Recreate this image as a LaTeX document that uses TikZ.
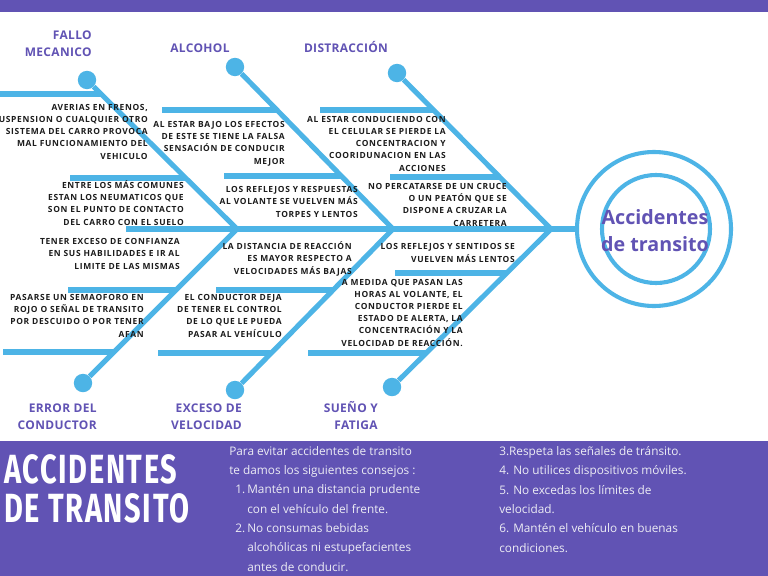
\documentclass[tikz,border=0pt]{standalone}
\usepackage{fontspec}
\setmainfont{Open Sans}
\newfontfamily\notefont[LetterSpace=8]{Open Sans}
\newfontfamily\catfont[LetterSpace=3]{Open Sans}
\newfontfamily\titlefont[FakeStretch=0.71,LetterSpace=4]{Fira Sans}
\definecolor{bar}{HTML}{6153B4}
\definecolor{fish}{HTML}{4DB4E6}
\definecolor{ink}{HTML}{1C1C1C}
\definecolor{paper}{HTML}{ECECF4}

\begin{document}
\begin{tikzpicture}[x=0.25mm, y=-0.25mm,
  bone/.style={fish, line width=3.6pt},
  dot/.style={circle, fill=fish, inner sep=0, minimum size=4.6mm},
  cat/.style={inner sep=0, anchor=base east, align=right, text=bar,
    font=\catfont\bfseries\fontsize{8.5}{11.4}\selectfont},
  note/.style={inner sep=0, anchor=base east, align=right, text=ink,
    font=\notefont\bfseries\fontsize{6}{8.55}\selectfont},
  tip/.style={inner sep=0, anchor=base west, align=left, text=paper,
    font=\fontsize{8.4}{13.7}\selectfont}]
  \useasboundingbox (0,0) rectangle (768,576);
  \fill[white] (0,0) rectangle (768,576);
  \fill[bar] (0,0) rectangle (768,12);
  \fill[bar] (0,441) rectangle (768,576);

  % head of the fish
  \node[circle, draw=fish, line width=2.9pt, minimum size=38.5mm] (hub) at (654,229) {};
  \node[circle, draw=fish, line width=2.9pt, minimum size=27mm] (core) at (656,229) {};
  \node[text=bar, align=center, font=\bfseries\fontsize{14}{19.2}\selectfont] (topic) at (655,231) {Accidentes\\de transito};

  % spine and the three chevrons
  \coordinate (tail) at (126,229);
  \coordinate (tipA) at (237,229);
  \coordinate (tipB) at (393,229);
  \coordinate (tipC) at (551,229);
  \draw[bone] (tail) -- (hub.west);

  \node[dot] (fallo) at (87,80) {};
  \node[dot] (alcohol) at (235,67) {};
  \node[dot] (distraccion) at (397,73) {};
  \node[dot] (error) at (83,383) {};
  \node[dot] (exceso) at (235,390) {};
  \node[dot] (sueno) at (392,387) {};
  \draw[bone] (fallo) -- (tipA) -- (error);
  \draw[bone] (alcohol) -- (tipB) -- (exceso);
  \draw[bone] (distraccion) -- (tipC) -- (sueno);

  % ribs
  \foreach \xa/\xb/\y in {0/101/94, 70/186/178, 68/176/290, 3/114/352,
      162/277/110, 224/341/176, 216/333/290, 158/271/353,
      320/434/110, 390/500/177, 395/507/273, 308/426/353}
    \draw[bone] (\xa,\y) -- (\xb,\y);

  % causes (base = last line)
  \node[cat] (lfallo) at (92,56) {FALLO\\MECANICO};
  \node[cat, anchor=base] (lalcohol) at (200,52) {ALCOHOL};
  \node[cat, anchor=base] (ldistraccion) at (346,52) {DISTRACCIÓN};
  \node[cat] (lerror) at (97,429) {ERROR DEL\\CONDUCTOR};
  \node[cat] (lexceso) at (242,429) {EXCESO DE\\VELOCIDAD};
  \node[cat] (lsueno) at (378,429) {SUEÑO Y\\FATIGA};

  % notes
  \node[note] (nfrenos) at (148,159) {AVERIAS EN FRENOS,\\SUSPENSION O CUALQUIER OTRO\\SISTEMA DEL CARRO PROVOCA\\MAL FUNCIONAMIENTO DEL\\VEHICULO};
  \node[note] (nllantas) at (184,225) {ENTRE LOS MÁS COMUNES\\ESTAN LOS NEUMATICOS QUE\\SON EL PUNTO DE CONTACTO\\DEL CARRO CON EL SUELO};
  \node[note] (nconfianza) at (180,269) {TENER EXCESO DE CONFIANZA\\EN SUS HABILIDADES E IR AL\\LIMITE DE LAS MISMAS};
  \node[note] (nsemaforo) at (144,337) {PASARSE UN SEMAOFORO EN\\ROJO O SEÑAL DE TRANSITO\\POR DESCUIDO O POR TENER\\AFAN};
  \node[note] (nefectos) at (285,164) {AL ESTAR BAJO LOS EFECTOS\\DE ESTE SE TIENE LA FALSA\\SENSACIÓN DE CONDUCIR\\MEJOR};
  \node[note] (nreflejos) at (358,217) {LOS REFLEJOS Y RESPUESTAS\\AL VOLANTE SE VUELVEN MÁS\\TORPES Y LENTOS};
  \node[note] (ndistancia) at (352,274) {LA DISTANCIA DE REACCIÓN\\ES MAYOR RESPECTO A\\VELOCIDADES MÁS BAJAS};
  \node[note] (ncontrol) at (282,337) {EL CONDUCTOR DEJA\\DE TENER EL CONTROL\\DE LO QUE LE PUEDA\\PASAR AL VEHÍCULO};
  \node[note] (ncelular) at (446,171) {AL ESTAR CONDUCIENDO CON\\EL CELULAR SE PIERDE LA\\CONCENTRACION Y\\COORIDUNACION EN LAS\\ACCIONES};
  \node[note] (ncruce) at (507,226) {NO PERCATARSE DE UN CRUCE\\O UN PEATÓN QUE SE\\DISPONE A CRUZAR LA\\CARRETERA};
  \node[note] (nsentidos) at (515,262) {LOS REFLEJOS Y SENTIDOS SE\\VUELVEN MÁS LENTOS};
  \node[note] (nalerta) at (463,346) {A MEDIDA QUE PASAN LAS\\HORAS AL VOLANTE, EL\\CONDUCTOR PIERDE EL\\ESTADO DE ALERTA, LA\\CONCENTRACIÓN Y LA\\VELOCIDAD DE REACCIÓN.};

  % bottom band
  \node[anchor=base west, inner sep=0, text=white, align=left,
    font=\titlefont\bfseries\fontsize{29}{27.7}\selectfont] (title) at (4,522) {ACCIDENTES\\DE TRANSITO};
  \node[tip] (consejos) at (229,571) {Para evitar accidentes de transito\\
    te damos los siguientes consejos :\\
    \makebox[12.8pt][r]{1.\hspace{1.5pt}}Mantén una distancia prudente\\
    \hspace*{12.8pt}con el vehículo del frente.\\
    \makebox[12.8pt][r]{2.\hspace{1.5pt}}No consumas bebidas\\
    \hspace*{12.8pt}alcohólicas ni estupefacientes\\
    \hspace*{12.8pt}antes de conducir.};
  \node[tip] (consejosb) at (499,552) {3.Respeta las señales de tránsito.\\
    4. No utilices dispositivos móviles.\\
    5. No excedas los límites de\\
    velocidad.\\
    6. Mantén el vehículo en buenas\\
    condiciones.};
\end{tikzpicture}
\end{document}
